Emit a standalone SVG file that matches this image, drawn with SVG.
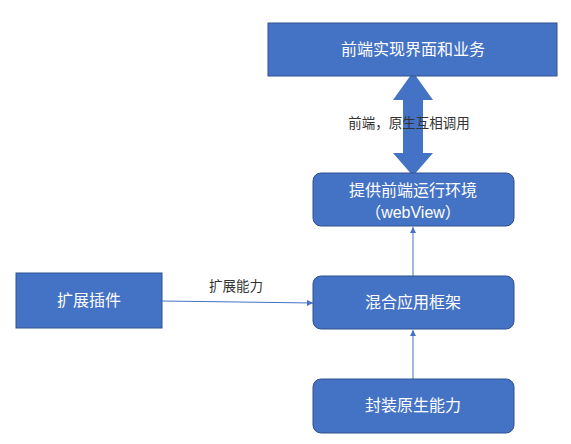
<svg xmlns="http://www.w3.org/2000/svg" width="571" height="444" viewBox="0 0 571 444">
<style>
.box{fill:#4472C4;stroke:#2F528F;stroke-width:1}
.t{fill:#fff;font-family:"Liberation Sans","Noto Sans CJK SC",sans-serif;font-size:16px;text-anchor:middle}
.l{fill:#333;font-family:"Liberation Sans","Noto Sans CJK SC",sans-serif;font-size:13.5px;text-anchor:middle}
.c{stroke:#4472C4;stroke-width:1;fill:none}
</style>
<defs>
<marker id="ah" markerWidth="8" markerHeight="8" refX="6" refY="3" orient="auto" markerUnits="userSpaceOnUse">
<path d="M0,0 L6,3 L0,6 Z" fill="#4472C4"/>
</marker>
</defs>
<rect width="571" height="444" fill="#fff"/>
<g id="connectors">
<path class="c" d="M162,301 L313,303" marker-end="url(#ah)"/>
<path class="c" d="M413,276 L413,227" marker-end="url(#ah)"/>
<path class="c" d="M413,379 L413,330" marker-end="url(#ah)"/>
<polygon points="413,72 433,100 423,100 423,153 433,153 413,176 393,153 403,153 403,100 393,100" fill="#4472C4"/>
<text class="l" x="409" y="128">前端，原生互相调用</text>
<text class="l" x="236" y="291">扩展能力</text>
</g>
<g id="top">
<rect class="box" x="268" y="23" width="289" height="53"/>
<text class="t" x="413" y="55">前端实现界面和业务</text>
</g>
<g id="webview">
<rect class="box" x="313" y="173" width="201" height="53" rx="8"/>
<text class="t" x="413" y="196">提供前端运行环境</text>
<text class="t" x="413" y="218">（webView）</text>
</g>
<g id="framework">
<rect class="box" x="313" y="276" width="201" height="53" rx="8"/>
<text class="t" x="413" y="308">混合应用框架</text>
</g>
<g id="native">
<rect class="box" x="313" y="379" width="201" height="54" rx="8"/>
<text class="t" x="413" y="411">封装原生能力</text>
</g>
<g id="plugin">
<rect class="box" x="16" y="273" width="146" height="55"/>
<text class="t" x="89" y="306">扩展插件</text>
</g>
</svg>
